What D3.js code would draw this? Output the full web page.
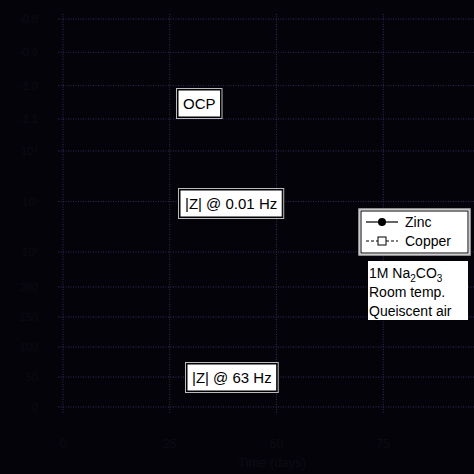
<!DOCTYPE html><html><head><meta charset="utf-8">
<script src="https://cdn.jsdelivr.net/npm/d3@7"></script>
<style>body{margin:0;background:#05030a}text{font-family:Arial,"Liberation Sans",sans-serif}</style></head><body>
<svg id="c" width="474" height="474"></svg>
<script>
const xTicks=[0,25,50,75];
const ocpTicks=["-0.8","-0.9","-1.0","-1.1"];
const zLowTicks=["10⁴","10³","10²"];
const zHighTicks=["200","150","100","50","0"];
const panels=[
 {ticks:ocpTicks,top:19,bottom:119,label:"OCP",box:[178,90]},
 {ticks:zLowTicks,top:151,bottom:252,label:"|Z| @ 0.01 Hz",box:[180,190]},
 {ticks:zHighTicks,top:287,bottom:407,label:"|Z| @ 63 Hz",box:[187,364]}
];
const svg=d3.select("#c");
svg.append("rect").attr("width",474).attr("height",474).attr("fill","#05030a");
const x=d3.scaleLinear().domain([0,100]).range([63,490]);
const grid="#2e2c5a";
panels.forEach(p=>{
 const y=d3.scalePoint().domain(p.ticks).range([p.top,p.bottom]);
 p.ticks.forEach(t=>{
  svg.append("line").attr("x1",58).attr("x2",474).attr("y1",y(t)).attr("y2",y(t)).attr("stroke",grid).attr("stroke-dasharray","1,1.5");
  svg.append("text").attr("x",38).attr("y",y(t)+4).attr("text-anchor","end").attr("font-size",11).attr("fill","#0c0b12").text(t);
 });
});
xTicks.forEach(t=>{
 svg.append("line").attr("x1",x(t)).attr("x2",x(t)).attr("y1",14).attr("y2",413).attr("stroke",grid).attr("stroke-dasharray","1,1.5");
 svg.append("text").attr("x",x(t)).attr("y",448).attr("text-anchor","middle").attr("font-size",12).attr("fill","#0c0b12").text(t);
});
svg.append("text").attr("x",272).attr("y",467).attr("text-anchor","middle").attr("font-size",13).attr("fill","#0c0b12").text("Time (days)");
function box(x0,y0,txt,fs){
 const g=svg.append("g");
 const t=g.append("text").attr("x",x0+5).attr("y",y0+19).attr("font-size",fs).attr("fill","#000").text(txt);
 const w=t.node().getComputedTextLength()+10;
 g.insert("rect","text").attr("x",x0).attr("y",y0).attr("width",w).attr("height",27).attr("fill","#fff").attr("stroke","#000").attr("stroke-width",1);
 g.insert("rect","text").attr("x",x0-1.5).attr("y",y0-1.5).attr("width",w+3).attr("height",30).attr("fill","none").attr("stroke","#bbb").attr("stroke-width",1);
}
panels.forEach(p=>box(p.box[0],p.box[1],p.label,15));
// legend
const lg=svg.append("g");
lg.append("rect").attr("x",359).attr("y",209).attr("width",111).attr("height",46).attr("fill","#fff").attr("stroke","#bbb").attr("stroke-width",1.5);
lg.append("rect").attr("x",361).attr("y",211).attr("width",107).attr("height",42).attr("fill","#fff").attr("stroke","#000");
const series=["Zinc","Copper"];
series.forEach((s,i)=>{
 const yy=222+i*19;
 lg.append("line").attr("x1",366).attr("x2",398).attr("y1",yy).attr("y2",yy).attr("stroke","#000").attr("stroke-width",1.2).attr("stroke-dasharray",i?"3,2":null);
 if(i==0) lg.append("circle").attr("cx",382).attr("cy",yy).attr("r",4).attr("fill","#000");
 else lg.append("rect").attr("x",378).attr("y",yy-4).attr("width",8).attr("height",8).attr("fill","#fff").attr("stroke","#000");
 lg.append("text").attr("x",405).attr("y",yy+5).attr("font-size",14).attr("fill","#000").text(s);
});
const nb=svg.append("g");
nb.append("rect").attr("x",368).attr("y",261).attr("width",100).attr("height",59).attr("fill","#fff");
const t1=nb.append("text").attr("x",369).attr("y",278).attr("font-size",14).attr("fill","#000");
t1.append("tspan").text("1M Na");t1.append("tspan").attr("font-size",10).attr("dy",4).text("2");
t1.append("tspan").attr("dy",-4).text("CO");t1.append("tspan").attr("font-size",10).attr("dy",4).text("3");
nb.append("text").attr("x",369).attr("y",297).attr("font-size",14).attr("fill","#000").text("Room temp.");
nb.append("text").attr("x",369).attr("y",316).attr("font-size",14).attr("fill","#000").text("Queiscent air");
</script></body></html>
